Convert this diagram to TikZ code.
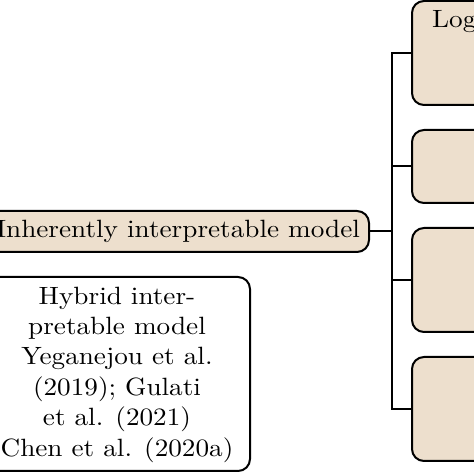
\documentclass[tikz,border=0pt]{standalone}
\usepackage{graphicx}
\definecolor{boxfill}{RGB}{237,223,205}
\newcommand{\bigtxt}[1]{\scalebox{2.72}[2.5]{\fontsize{10}{12.16}\selectfont\begin{tabular}{@{}c@{}}#1\end{tabular}}}
\begin{document}
\begin{tikzpicture}[x=1pt,y=1pt,
  catbox/.style={draw=black, line width=2pt, rounded corners=12pt, fill=boxfill},
  leafbox/.style={draw=black, line width=2pt, rounded corners=12pt, fill=boxfill, anchor=west, minimum width=220pt},
  hybbox/.style={draw=black, line width=2pt, rounded corners=12pt, fill=white, align=center},
  link/.style={line width=2pt}]
\useasboundingbox (0,0) rectangle (474,474);
\node[catbox, anchor=east, minimum height=41pt, inner xsep=9pt, inner ysep=0pt] (inh) at (370,242.5) {\bigtxt{Inherently interpretable model}};
\node[hybbox, minimum width=266pt, minimum height=194pt, inner sep=0pt] (hyb) at (117,100)
  {\bigtxt{Hybrid inter-\\pretable model\\Yeganejou et al.\\(2019); Gulati\\et al. (2021)\\Chen et al. (2020a)}};
\node[leafbox, minimum height=104pt] (b1) at (411,421) {};
\node[leafbox, minimum height=73pt] (b2) at (411,307.5) {};
\node[leafbox, minimum height=104pt] (b3) at (411,194) {};
\node[leafbox, minimum height=104pt] (b4) at (411,65) {};
\node[anchor=base west, inner sep=0pt] (lab1) at (432,446.5) {\scalebox{2.72}[2.5]{\fontsize{10}{12}\selectfont Log}};
\coordinate (tr) at (392,0);
\draw[link] (inh.east) -- (inh.east -| tr);
\draw[link] (b1.west) -- (b1.west -| tr) -- (b4.west -| tr) -- (b4.west);
\draw[link] (b2.west) -- (b2.west -| tr);
\draw[link] (b3.west) -- (b3.west -| tr);
\end{tikzpicture}
\end{document}
